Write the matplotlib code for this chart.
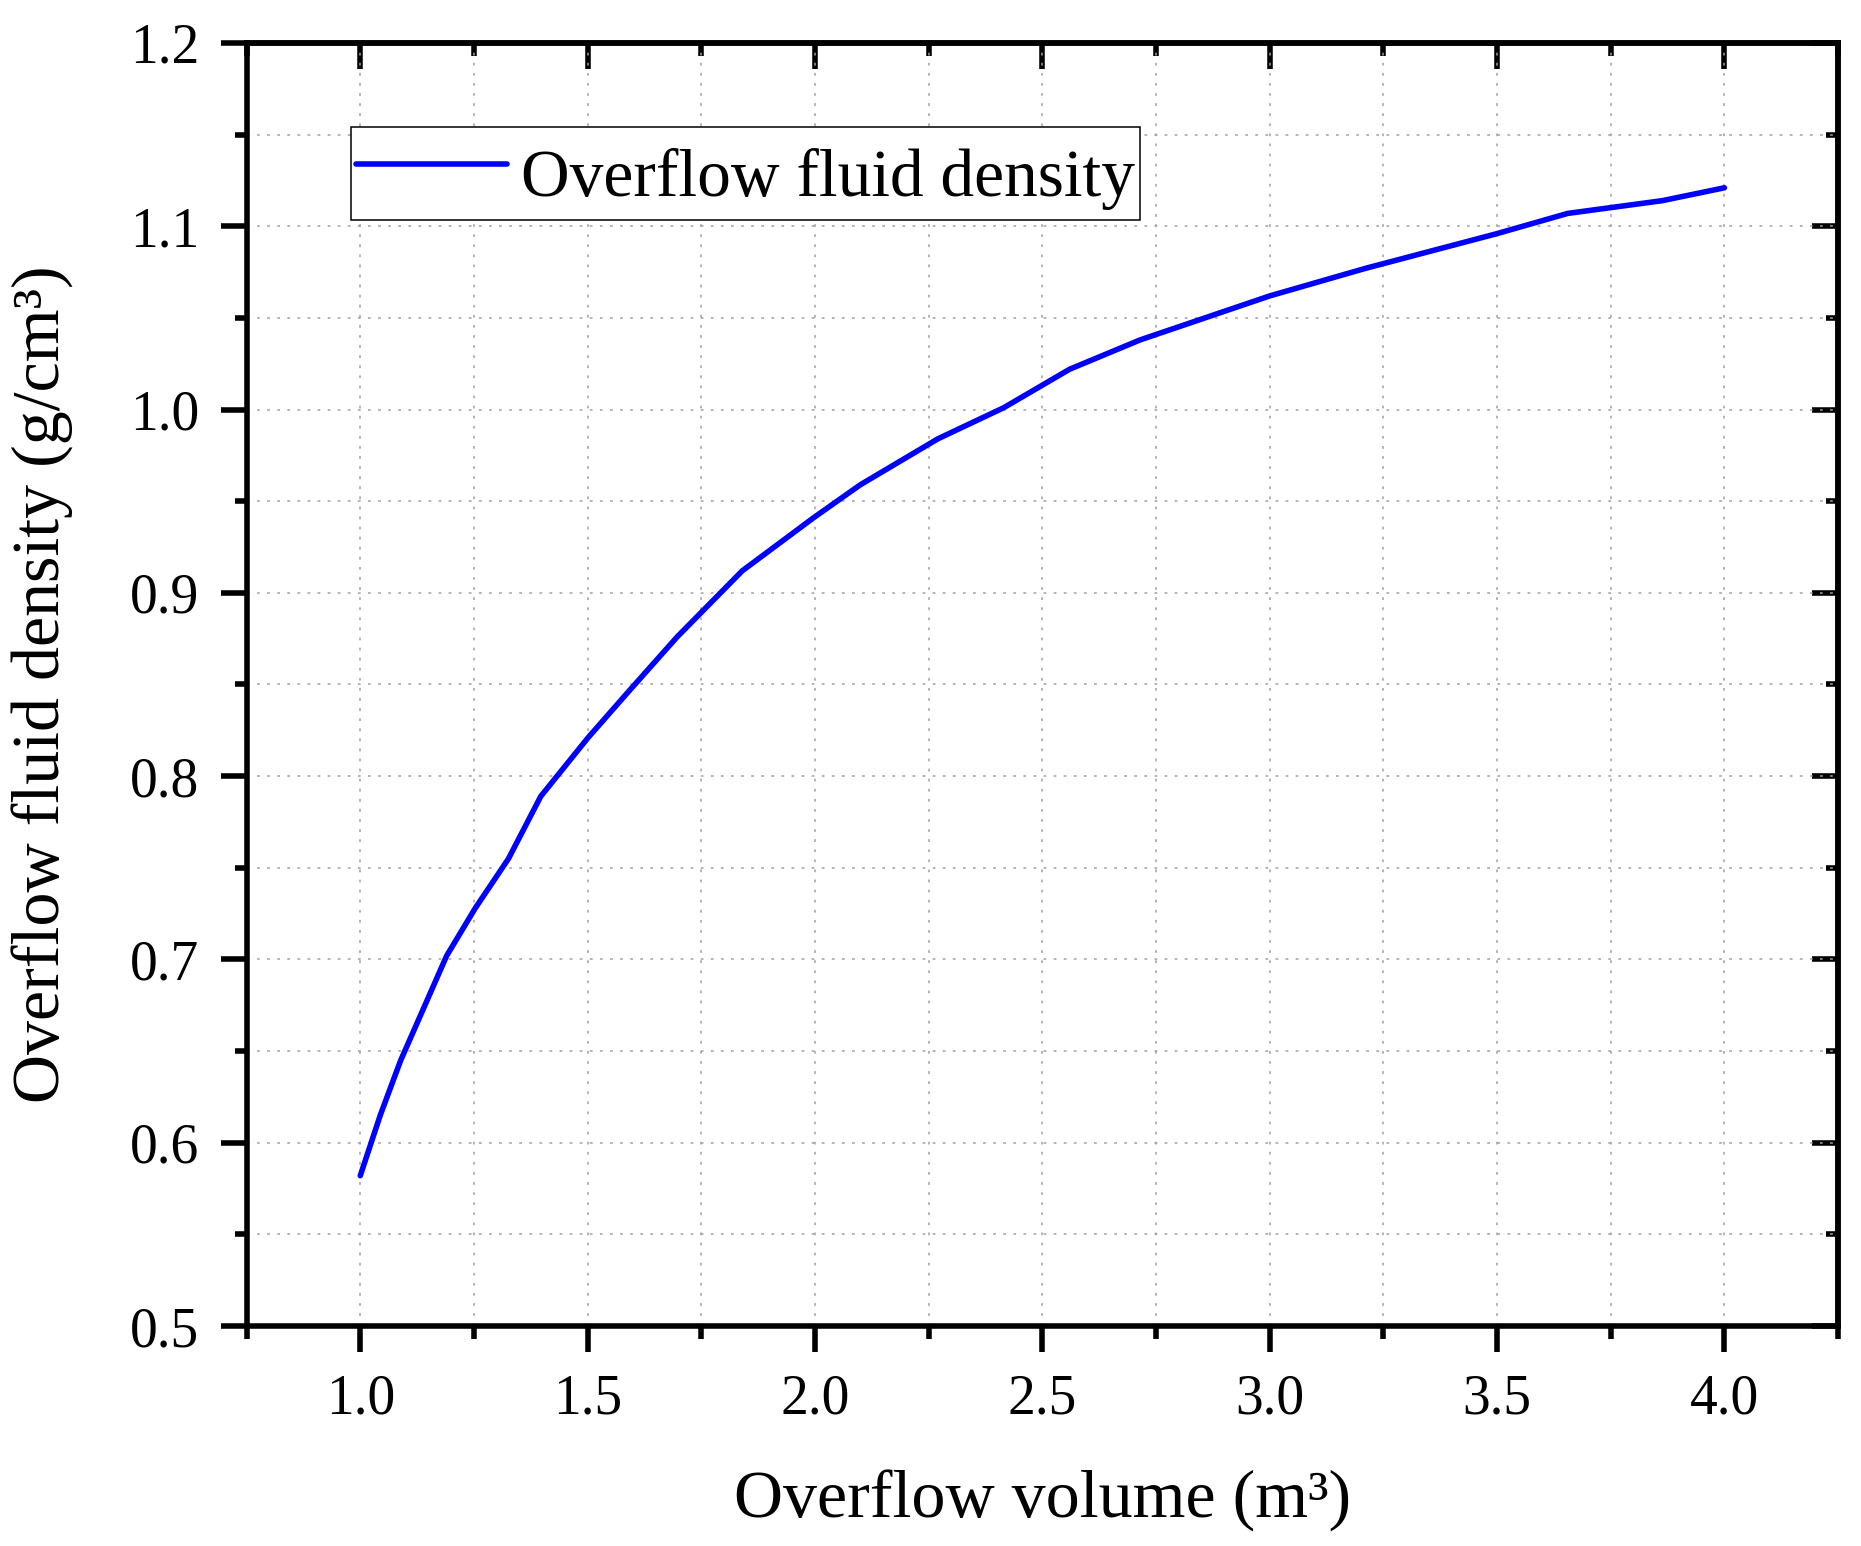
import numpy as np
import matplotlib as mpl
mpl.use("agg")
import matplotlib.pyplot as plt
from matplotlib.ticker import MultipleLocator, FormatStrFormatter

# curve
volume = [1.0, 1.044, 1.089, 1.144, 1.19, 1.253, 1.326, 1.397, 1.501, 1.593,
          1.697, 1.84, 1.997, 2.10, 2.27, 2.415, 2.56, 2.715, 3.0, 3.21,
          3.5, 3.655, 3.864, 4.0]
density = [0.582, 0.615, 0.645, 0.676, 0.702, 0.728, 0.755, 0.789, 0.821, 0.847,
           0.876, 0.912, 0.941, 0.959, 0.984, 1.001, 1.022, 1.038, 1.062, 1.077,
           1.096, 1.107, 1.114, 1.121]

xlabel = "Overflow volume (m\u00b3)"
ylabel = "Overflow fluid density (g/cm\u00b3)"
legend_label = "Overflow fluid density"

plt.rcParams["font.family"] = ["Liberation Serif", "DejaVu Serif"]

fig = plt.figure(figsize=(18.61, 15.46), dpi=100)
ax = fig.add_axes([0.1325, 0.1423, 0.8552, 0.8299])

ax.plot(volume, density, color="#0000ff", lw=4, label=legend_label,
        solid_capstyle="round")

ax.set_xlim(0.75, 4.25)
ax.set_ylim(0.5, 1.2)
ax.xaxis.set_major_locator(MultipleLocator(0.5))
ax.xaxis.set_minor_locator(MultipleLocator(0.25))
ax.yaxis.set_major_locator(MultipleLocator(0.1))
ax.yaxis.set_minor_locator(MultipleLocator(0.05))
ax.xaxis.set_major_formatter(FormatStrFormatter("%.1f"))
ax.yaxis.set_major_formatter(FormatStrFormatter("%.1f"))

ax.grid(which="both", color="#a0a0a0", ls=(0, (1.8, 4.8)), lw=1.1)
ax.set_axisbelow(True)

for s in ax.spines.values():
    s.set_linewidth(4)

ax.tick_params(which="major", direction="out", length=19, width=4,
               labelsize=40, pad=15)
ax.tick_params(which="minor", direction="out", length=9, width=4)

# top and right ticks point inward
ax2 = ax.secondary_xaxis("top")
ax2.xaxis.set_major_locator(MultipleLocator(0.5))
ax2.xaxis.set_minor_locator(MultipleLocator(0.25))
ax3 = ax.secondary_yaxis("right")
ax3.yaxis.set_major_locator(MultipleLocator(0.1))
ax3.yaxis.set_minor_locator(MultipleLocator(0.05))
for a in (ax2, ax3):
    a.tick_params(which="major", direction="in", length=19, width=4,
                  labeltop=False, labelright=False)
    a.tick_params(which="minor", direction="in", length=9, width=4)
    for s in a.spines.values():
        s.set_linewidth(4)

ax.set_xlabel(xlabel, fontsize=49, labelpad=32)
ax.set_ylabel(ylabel, fontsize=49, labelpad=40)

leg = ax.legend(loc="upper left", bbox_to_anchor=(0.0655, 0.9343),
                borderaxespad=0, fontsize=48.5, fancybox=False,
                edgecolor="black", framealpha=1, handlelength=2.24,
                handleheight=1.5, handletextpad=0.2, borderpad=0.08)
leg.get_frame().set_linewidth(1.1)

fig.savefig("out.png", dpi=100)
